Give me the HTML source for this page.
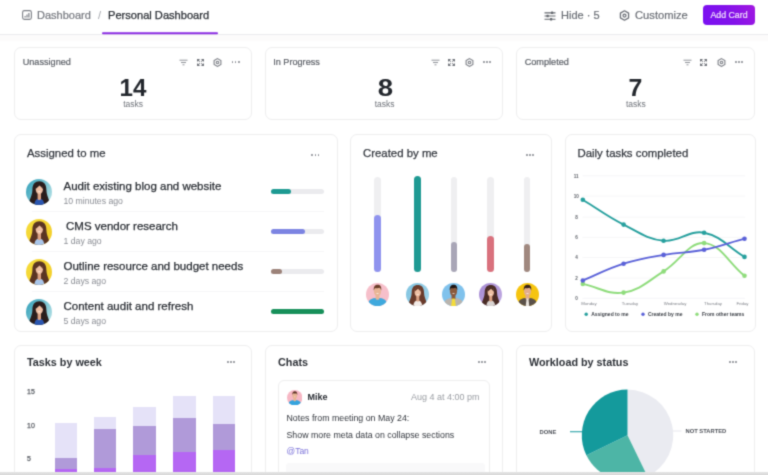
<!DOCTYPE html>
<html><head><meta charset="utf-8">
<style>
*{box-sizing:border-box;margin:0;padding:0}
html,body{width:768px;height:475px;overflow:hidden;background:#fff}
body{font-family:"Liberation Sans",sans-serif;color:#2a2e34;position:relative}
.abs{position:absolute}
.hdr{position:absolute;left:0;top:0;width:768px;height:35px;border-bottom:1px solid #ebebee}
.band{position:absolute;left:0;top:35px;width:768px;height:6px;background:#fcfbfb}
.card{position:absolute;background:#fff;border:1px solid #eeeeef;border-radius:7px}
.t{position:absolute;white-space:nowrap;line-height:1}
.ttl{font-size:11.4px;color:#34383f;-webkit-text-stroke:.25px #34383f}
.ttlb{font-size:10.8px;color:#2e3238;font-weight:bold}
.lab{font-size:9.15px;color:#5d6168;-webkit-text-stroke:.2px #5d6168}
.big{font-size:23px;font-weight:bold;color:#24282e;text-align:center}
.tk{font-size:8.5px;color:#6f737a;text-align:center}
.dots{position:absolute;width:9px;height:3px}
.dots i{position:absolute;top:.4px;width:1.8px;height:1.8px;border-radius:50%;background:#85888f}
.task{font-size:11.5px;color:#2a2e34;-webkit-text-stroke:.25px #2a2e34}
.ago{font-size:8.7px;color:#8b8e95}
.track{position:absolute;height:5px;border-radius:3px;background:#ebebee}
.fill{position:absolute;left:0;top:0;height:5px;border-radius:3px}
.vtrack{position:absolute;width:6.5px;border-radius:3.5px;background:#efeff1}
.vfill{position:absolute;left:0;bottom:0;width:6.5px;border-radius:3.5px}
.ax{font-size:6px;color:#5f636a}
.div{position:absolute;height:1px;background:#f6f6f7}
#root{position:absolute;left:0;top:0;width:768px;height:475px;overflow:hidden;background:#fff;filter:url(#sb)}
</style></head><body><svg width="0" height="0" style="position:absolute"><filter id="sb" x="0" y="0" width="100%" height="100%" color-interpolation-filters="sRGB"><feConvolveMatrix order="3" kernelMatrix="1 4 1 4 16 4 1 4 1" divisor="36" edgeMode="duplicate" preserveAlpha="true"/></filter></svg><div id="root">
<div class="hdr">
 <svg class="abs" style="left:21.700px;top:10.100px" width="10" height="10" viewBox="0 0 10 10" fill="none" stroke="#7d8087" stroke-width="1.100"><rect x=".6" y=".6" width="8.800" height="8.800" rx="1.800"/><path d="M3.100 7.400V5.900M5 7.400V4.500M6.900 7.400V2.900" stroke-width="1.200"/></svg>
 <div class="t" style="left:37px;top:10.200px;font-size:11px;color:#74777e;-webkit-text-stroke:.2px #74777e">Dashboard</div>
 <div class="t" style="left:98px;top:10.200px;font-size:11px;color:#a3a6ac">/</div>
 <div class="t" style="left:108px;top:10.200px;font-size:11.100px;color:#2a2e34;-webkit-text-stroke:.25px #2a2e34">Personal Dashboard</div>
 <div class="abs" style="left:101.500px;top:32px;width:116px;height:2.300px;background:#8a2be2;border-radius:1.200px;transform:translateY(.3px)"></div>
 <svg class="abs" style="left:544px;top:10.500px" width="12" height="10" viewBox="0 0 12 10" fill="none" stroke="#64686f" stroke-width="1.150"><path d="M.5 1.800h11M.5 5h11M.5 8.200h11"/><rect x="7" y=".5" width="2.200" height="2.600" rx=".5" fill="#64686f" stroke="none"/><rect x="2.500" y="3.700" width="2.200" height="2.600" rx=".5" fill="#64686f" stroke="none"/><rect x="6" y="6.900" width="2.200" height="2.600" rx=".5" fill="#64686f" stroke="none"/></svg>
 <div class="t" style="left:561px;top:10.200px;font-size:11px;color:#6b6f76;-webkit-text-stroke:.2px #6b6f76">Hide · 5</div>
 <svg class="abs" style="left:618.500px;top:10px" width="11" height="11" viewBox="0 0 11 11" fill="none" stroke="#6b6f76" stroke-width="1.250" stroke-linejoin="round"><path d="M5.500 .8l4.100 2.350v4.700l-4.100 2.350-4.100-2.350V3.150z"/><circle cx="5.500" cy="5.500" r="1.500"/></svg>
 <div class="t" style="left:635px;top:10.200px;font-size:11.200px;color:#6b6f76;-webkit-text-stroke:.2px #6b6f76">Customize</div>
 <div class="abs" style="left:703px;top:4.500px;width:52px;height:20.500px;background:linear-gradient(60deg,#7a10f2 0%,#8212ea 50%,#a218e0 100%);border-radius:4px;color:#f1e0fc;font-size:8.800px;line-height:20.500px;text-align:center;-webkit-text-stroke:.2px #f1e0fc">Add Card</div>
</div>
<div class="band"></div>

<!-- row1 -->
<div class="card" style="left:14px;top:47px;width:237.5px;height:73px"></div>
<div class="t lab" style="left:22.7px;top:57.500px">Unassigned</div>
<div class="t big" style="left:14.0px;top:77.300px;width:237.5px;transform:translateX(.3px) scaleX(1.05)">14</div>
<div class="t tk" style="left:14.3px;top:99.500px;width:237.5px">tasks</div>
<svg class="abs" style="left:179.3px;top:59px" width="9" height="7" viewBox="0 0 9 7" stroke="#85888f" stroke-width=".9" fill="none"><path d="M.5 1.200h8M2 3.500h5M3.500 5.800h2"/></svg><svg class="abs" style="left:196.9px;top:59px" width="7" height="7" viewBox="0 0 7 7" fill="#74777e"><path d="M0 0h2.600v1.200H1.200v1.400H0zM7 0v2.600H5.800V1.200H4.400V0zM0 7V4.400h1.200v1.400h1.400V7zM7 7H4.400V5.800h1.400V4.400H7z"/><path d="M.8.800L2.800 2.800M6.200.8L4.200 2.800M.8 6.200L2.800 4.200M6.200 6.200L4.200 4.200" stroke="#74777e" stroke-width="1"/></svg><svg class="abs" style="left:213.3px;top:58px" width="9" height="9" viewBox="0 0 9 9" fill="none" stroke="#787b82" stroke-width="1.050"><path d="M4.500 .6l3.400 1.950v3.900L4.500 8.400 1.100 6.450v-3.900z"/><circle cx="4.500" cy="4.500" r="1.300"/></svg><div class="dots" style="left:231.2px;top:61px"><i style="left:.4px"></i><i style="left:3.500px"></i><i style="left:6.600px"></i></div>
<div class="card" style="left:264.5px;top:47px;width:238.5px;height:73px"></div>
<div class="t lab" style="left:273.2px;top:57.500px">In Progress</div>
<div class="t big" style="left:264.5px;top:77.300px;width:238.5px;transform:translateX(1.1px) scaleX(1.2)">8</div>
<div class="t tk" style="left:265.3px;top:99.500px;width:238.5px">tasks</div>
<svg class="abs" style="left:430.8px;top:59px" width="9" height="7" viewBox="0 0 9 7" stroke="#85888f" stroke-width=".9" fill="none"><path d="M.5 1.200h8M2 3.500h5M3.500 5.800h2"/></svg><svg class="abs" style="left:448.4px;top:59px" width="7" height="7" viewBox="0 0 7 7" fill="#74777e"><path d="M0 0h2.600v1.200H1.200v1.400H0zM7 0v2.600H5.800V1.200H4.400V0zM0 7V4.400h1.200v1.400h1.400V7zM7 7H4.400V5.800h1.400V4.400H7z"/><path d="M.8.800L2.800 2.800M6.200.8L4.200 2.800M.8 6.200L2.800 4.200M6.200 6.200L4.200 4.200" stroke="#74777e" stroke-width="1"/></svg><svg class="abs" style="left:464.8px;top:58px" width="9" height="9" viewBox="0 0 9 9" fill="none" stroke="#787b82" stroke-width="1.050"><path d="M4.500 .6l3.400 1.950v3.900L4.500 8.400 1.100 6.450v-3.900z"/><circle cx="4.500" cy="4.500" r="1.300"/></svg><div class="dots" style="left:482.7px;top:61px"><i style="left:.4px"></i><i style="left:3.500px"></i><i style="left:6.600px"></i></div>
<div class="card" style="left:516px;top:47px;width:239px;height:73px"></div>
<div class="t lab" style="left:524.7px;top:57.500px">Completed</div>
<div class="t big" style="left:516.0px;top:77.300px;width:239px;transform:scaleX(1.08)">7</div>
<div class="t tk" style="left:516.3px;top:99.500px;width:239px">tasks</div>
<svg class="abs" style="left:682.8px;top:59px" width="9" height="7" viewBox="0 0 9 7" stroke="#85888f" stroke-width=".9" fill="none"><path d="M.5 1.200h8M2 3.500h5M3.500 5.800h2"/></svg><svg class="abs" style="left:700.4px;top:59px" width="7" height="7" viewBox="0 0 7 7" fill="#74777e"><path d="M0 0h2.600v1.200H1.200v1.400H0zM7 0v2.600H5.800V1.200H4.400V0zM0 7V4.400h1.200v1.400h1.400V7zM7 7H4.400V5.800h1.400V4.400H7z"/><path d="M.8.800L2.800 2.800M6.200.8L4.200 2.800M.8 6.200L2.800 4.200M6.200 6.200L4.200 4.200" stroke="#74777e" stroke-width="1"/></svg><svg class="abs" style="left:716.8px;top:58px" width="9" height="9" viewBox="0 0 9 9" fill="none" stroke="#787b82" stroke-width="1.050"><path d="M4.500 .6l3.400 1.950v3.900L4.500 8.400 1.100 6.450v-3.900z"/><circle cx="4.500" cy="4.500" r="1.300"/></svg><div class="dots" style="left:734.7px;top:61px"><i style="left:.4px"></i><i style="left:3.500px"></i><i style="left:6.600px"></i></div>


<!-- row2 -->
<div class="card" style="left:14px;top:133.500px;width:323.500px;height:198px"></div>
<div class="t ttl" style="left:27px;top:148px">Assigned to me</div>
<div class="dots" style="left:311px;top:153.500px"><i style="left:.4px"></i><i style="left:3.500px"></i><i style="left:6.600px"></i></div>
<div class="t task" style="left:63.5px;top:181.0px">Audit existing blog and website</div>
<div class="t ago" style="left:63.500px;top:197.3px">10 minutes ago</div>
<div class="track" style="left:271px;top:189.0px;width:52.500px"><div class="fill" style="width:20px;background:#1d9a92"></div></div>
<div class="div" style="left:32px;top:210.5px;width:292px"></div>
<div class="t task" style="left:66.0px;top:221.0px">CMS vendor research</div>
<div class="t ago" style="left:63.500px;top:237.3px">1 day ago</div>
<div class="track" style="left:271px;top:229.0px;width:52.500px"><div class="fill" style="width:33.7px;background:#7c84e2"></div></div>
<div class="div" style="left:32px;top:250.5px;width:292px"></div>
<div class="t task" style="left:63.5px;top:261.0px">Outline resource and budget needs</div>
<div class="t ago" style="left:63.500px;top:277.3px">2 days ago</div>
<div class="track" style="left:271px;top:269.0px;width:52.500px"><div class="fill" style="width:10.5px;background:#9c8279"></div></div>
<div class="div" style="left:32px;top:290.5px;width:292px"></div>
<div class="t task" style="left:63.5px;top:301.0px">Content audit and refresh</div>
<div class="t ago" style="left:63.500px;top:317.3px">5 days ago</div>
<div class="track" style="left:271px;top:309.0px;width:52.500px"><div class="fill" style="width:52.5px;background:#17905a"></div></div>

<svg class="abs" style="left:26.2px;top:178.5px" width="26.0" height="26.0" viewBox="0 0 26 26"><defs><linearGradient id="g39_191" x1="0" y1="0" x2="1" y2=".6"><stop offset="0" stop-color="#2f9fb8"/><stop offset="1" stop-color="#a9dbe2"/></linearGradient></defs><clipPath id="cg39_191"><circle cx="13" cy="13" r="13"/></clipPath><g clip-path="url(#cg39_191)"><rect width="26" height="26" fill="url(#g39_191)"/><path d="M6.400 11C6.400 5 9.200 2.300 13.300 2.300S20.400 5 20.400 11c0 4 1.600 7 2.900 11l-1.300 4H4.600l-1.300-4c1.500-4 3.100-7 3.100-11z" fill="#2a1d1c"/><path d="M8.300 26c.4-4.400 2-6.300 5-6.300s4.600 1.900 5 6.300z" fill="#2a56b0"/><path d="M11.600 14h3.400v5.800c0 1.600-3.400 1.600-3.400 0z" fill="#dba284"/><ellipse cx="13.300" cy="10.200" rx="3.600" ry="5" fill="#eebfa3"/><path d="M9.600 10c.1-4 1.800-5.400 3.800-5.400 2.100 0 3.500 1.500 3.600 5.400-1.200-1.300-2.400-2.700-3.400-3.500-1.300 1-2.700 2.300-4 3.500z" fill="#2a1d1c"/><path d="M11.700 12.600q1.600 1.500 3.200 0z" fill="#fff"/></g></svg>
<svg class="abs" style="left:26.2px;top:218.5px" width="26.0" height="26.0" viewBox="0 0 26 26"><defs><linearGradient id="g39_231" x1="0" y1="0" x2="1" y2=".6"><stop offset="0" stop-color="#f6dc3c"/><stop offset="1" stop-color="#f3cf2a"/></linearGradient></defs><clipPath id="cg39_231"><circle cx="13" cy="13" r="13"/></clipPath><g clip-path="url(#cg39_231)"><rect width="26" height="26" fill="url(#g39_231)"/><path d="M6.400 11C6.400 5 9.200 2.300 13.300 2.300S20.400 5 20.400 11c0 4 1.600 7 2.900 11l-1.300 4H4.600l-1.300-4c1.500-4 3.100-7 3.100-11z" fill="#5a3423"/><path d="M8.300 26c.4-4.400 2-6.300 5-6.300s4.600 1.900 5 6.300z" fill="#a9c6ea"/><path d="M11.600 14h3.400v5.800c0 1.600-3.400 1.600-3.400 0z" fill="#dba284"/><ellipse cx="13.300" cy="10.200" rx="3.600" ry="5" fill="#eebfa3"/><path d="M9.600 10c.1-4 1.800-5.400 3.800-5.400 2.100 0 3.500 1.500 3.600 5.400-1.200-1.300-2.400-2.700-3.400-3.500-1.300 1-2.700 2.300-4 3.500z" fill="#5a3423"/><path d="M11.700 12.600q1.600 1.500 3.200 0z" fill="#fff"/></g></svg>
<svg class="abs" style="left:26.2px;top:258.5px" width="26.0" height="26.0" viewBox="0 0 26 26"><defs><linearGradient id="g39_271" x1="0" y1="0" x2="1" y2=".6"><stop offset="0" stop-color="#f6dc3c"/><stop offset="1" stop-color="#f3cf2a"/></linearGradient></defs><clipPath id="cg39_271"><circle cx="13" cy="13" r="13"/></clipPath><g clip-path="url(#cg39_271)"><rect width="26" height="26" fill="url(#g39_271)"/><path d="M6.400 11C6.400 5 9.200 2.300 13.300 2.300S20.400 5 20.400 11c0 4 1.600 7 2.900 11l-1.300 4H4.600l-1.300-4c1.500-4 3.100-7 3.100-11z" fill="#5a3423"/><path d="M8.300 26c.4-4.400 2-6.300 5-6.300s4.600 1.900 5 6.300z" fill="#a9c6ea"/><path d="M11.600 14h3.400v5.800c0 1.600-3.400 1.600-3.400 0z" fill="#dba284"/><ellipse cx="13.300" cy="10.200" rx="3.600" ry="5" fill="#eebfa3"/><path d="M9.600 10c.1-4 1.800-5.400 3.800-5.400 2.100 0 3.500 1.500 3.600 5.400-1.200-1.300-2.400-2.700-3.400-3.500-1.300 1-2.700 2.300-4 3.500z" fill="#5a3423"/><path d="M11.700 12.600q1.600 1.500 3.200 0z" fill="#fff"/></g></svg>
<svg class="abs" style="left:26.2px;top:298.5px" width="26.0" height="26.0" viewBox="0 0 26 26"><defs><linearGradient id="g39_311" x1="0" y1="0" x2="1" y2=".6"><stop offset="0" stop-color="#2f9fb8"/><stop offset="1" stop-color="#a9dbe2"/></linearGradient></defs><clipPath id="cg39_311"><circle cx="13" cy="13" r="13"/></clipPath><g clip-path="url(#cg39_311)"><rect width="26" height="26" fill="url(#g39_311)"/><path d="M6.400 11C6.400 5 9.200 2.300 13.300 2.300S20.400 5 20.400 11c0 4 1.600 7 2.900 11l-1.300 4H4.600l-1.300-4c1.500-4 3.100-7 3.100-11z" fill="#2a1d1c"/><path d="M8.300 26c.4-4.400 2-6.300 5-6.300s4.600 1.900 5 6.300z" fill="#2a56b0"/><path d="M11.600 14h3.400v5.800c0 1.600-3.400 1.600-3.400 0z" fill="#dba284"/><ellipse cx="13.300" cy="10.200" rx="3.600" ry="5" fill="#eebfa3"/><path d="M9.600 10c.1-4 1.800-5.400 3.800-5.400 2.100 0 3.500 1.500 3.600 5.400-1.200-1.300-2.400-2.700-3.400-3.500-1.300 1-2.700 2.300-4 3.500z" fill="#2a1d1c"/><path d="M11.700 12.600q1.600 1.500 3.200 0z" fill="#fff"/></g></svg>

<div class="card" style="left:350px;top:133.500px;width:202px;height:198px"></div>
<div class="t ttl" style="left:363px;top:148px">Created by me</div>
<div class="dots" style="left:525.500px;top:153.500px"><i style="left:.4px"></i><i style="left:3.500px"></i><i style="left:6.600px"></i></div>
<div class="vtrack" style="left:374.4px;top:176.500px;height:95px"><div class="vfill" style="height:56.5px;background:#8f93ee"></div></div>
<div class="vtrack" style="left:414.4px;top:176.500px;height:95px"><div class="vfill" style="height:95.5px;background:#1f9a93"></div></div>
<div class="vtrack" style="left:450.6px;top:176.500px;height:95px"><div class="vfill" style="height:29.5px;background:#a9a6b7"></div></div>
<div class="vtrack" style="left:487.1px;top:176.500px;height:95px"><div class="vfill" style="height:35.9px;background:#d9717d"></div></div>
<div class="vtrack" style="left:523.8px;top:176.500px;height:95px"><div class="vfill" style="height:27.2px;background:#a0887f"></div></div>

<svg class="abs" style="left:366.0px;top:283.1px" width="23.0" height="23.0" viewBox="0 0 26 26"><clipPath id="m377_294"><circle cx="13" cy="13" r="13"/></clipPath><g clip-path="url(#m377_294)"><rect width="26" height="26" fill="#f6bfca"/><path d="M1.500 26c.3-6.200 4.300-9.300 11.500-9.300s11.200 3.100 11.500 9.300z" fill="#3fa9dd"/><path d="M10.800 12.500h4.400v4.700c0 2.400-4.400 2.400-4.400 0z" fill="#e8b595"/><ellipse cx="13" cy="9.200" rx="4" ry="5.200" fill="#e8b595"/><path d="M8.800 8.600C8.300 3.900 10.400 2 13.200 2c2.900 0 4.600 2.100 4 6.600-.5-1.600-1-2.600-1.600-3.200-1.700.6-3.800.6-5.400.2-.6.700-1.100 1.700-1.400 3z" fill="#6b3f2a"/><path d="M11.300 11.400q1.700 1.500 3.400 0z" fill="#fff"/></g></svg>
<svg class="abs" style="left:406.0px;top:283.1px" width="23.0" height="23.0" viewBox="0 0 26 26"><defs><linearGradient id="g417_294" x1="0" y1="0" x2="1" y2=".6"><stop offset="0" stop-color="#7fc3e0"/><stop offset="1" stop-color="#9fd2e8"/></linearGradient></defs><clipPath id="cg417_294"><circle cx="13" cy="13" r="13"/></clipPath><g clip-path="url(#cg417_294)"><rect width="26" height="26" fill="url(#g417_294)"/><path d="M6.400 11C6.400 5 9.200 2.300 13.300 2.300S20.400 5 20.400 11c0 4 1.600 7 2.900 11l-1.300 4H4.600l-1.300-4c1.500-4 3.100-7 3.100-11z" fill="#6a3b2b"/><path d="M8.300 26c.4-4.400 2-6.300 5-6.300s4.600 1.900 5 6.300z" fill="#f3ece8"/><path d="M11.600 14h3.400v5.800c0 1.600-3.400 1.600-3.400 0z" fill="#dba284"/><ellipse cx="13.300" cy="10.200" rx="3.600" ry="5" fill="#eebfa3"/><path d="M9.600 10c.1-4 1.800-5.400 3.800-5.400 2.100 0 3.500 1.500 3.600 5.400-1.200-1.300-2.400-2.700-3.400-3.500-1.300 1-2.700 2.300-4 3.500z" fill="#6a3b2b"/><path d="M11.700 12.600q1.600 1.500 3.200 0z" fill="#fff"/></g></svg>
<svg class="abs" style="left:442.3px;top:283.1px" width="23.0" height="23.0" viewBox="0 0 26 26"><clipPath id="m453_294"><circle cx="13" cy="13" r="13"/></clipPath><g clip-path="url(#m453_294)"><rect width="26" height="26" fill="#80c2ec"/><path d="M1.500 26c.3-6.200 4.300-9.300 11.500-9.300s11.200 3.100 11.500 9.300z" fill="#b9b4ae"/><path d="M10.800 12.500h4.400v4.700c0 2.400-4.400 2.400-4.400 0z" fill="#8a5a3d"/><ellipse cx="13" cy="9.200" rx="4" ry="5.200" fill="#8a5a3d"/><path d="M8.800 8.600C8.300 3.900 10.400 2 13.200 2c2.900 0 4.600 2.100 4 6.600-.5-1.600-1-2.600-1.600-3.200-1.700.6-3.800.6-5.400.2-.6.700-1.100 1.700-1.400 3z" fill="#1d1513"/><path d="M11.300 11.400q1.700 1.500 3.400 0z" fill="#fff"/><path d="M10.300 26l1.200-8.500h3l1.200 8.500z" fill="#f3dc3a"/></g></svg>
<svg class="abs" style="left:478.7px;top:283.1px" width="23.0" height="23.0" viewBox="0 0 26 26"><defs><linearGradient id="g490_294" x1="0" y1="0" x2="1" y2=".6"><stop offset="0" stop-color="#a68bd3"/><stop offset="1" stop-color="#bda6e0"/></linearGradient></defs><clipPath id="cg490_294"><circle cx="13" cy="13" r="13"/></clipPath><g clip-path="url(#cg490_294)"><rect width="26" height="26" fill="url(#g490_294)"/><path d="M6.400 11C6.400 5 9.200 2.300 13.300 2.300S20.400 5 20.400 11c0 4 1.600 7 2.900 11l-1.300 4H4.600l-1.300-4c1.500-4 3.100-7 3.100-11z" fill="#4a2c25"/><path d="M8.300 26c.4-4.400 2-6.300 5-6.300s4.600 1.900 5 6.300z" fill="#d9d4d2"/><path d="M11.600 14h3.400v5.800c0 1.600-3.400 1.600-3.400 0z" fill="#dba284"/><ellipse cx="13.300" cy="10.200" rx="3.600" ry="5" fill="#eebfa3"/><path d="M9.600 10c.1-4 1.800-5.400 3.800-5.400 2.100 0 3.500 1.500 3.600 5.400-1.200-1.300-2.400-2.700-3.400-3.500-1.300 1-2.700 2.300-4 3.500z" fill="#4a2c25"/><path d="M11.700 12.600q1.600 1.500 3.200 0z" fill="#fff"/></g></svg>
<svg class="abs" style="left:515.5px;top:283.1px" width="23.0" height="23.0" viewBox="0 0 26 26"><clipPath id="m527_294"><circle cx="13" cy="13" r="13"/></clipPath><g clip-path="url(#m527_294)"><rect width="26" height="26" fill="#f6c40f"/><path d="M1.500 26c.3-6.200 4.300-9.300 11.500-9.300s11.200 3.100 11.500 9.300z" fill="#5b5149"/><path d="M10.800 12.500h4.400v4.700c0 2.400-4.400 2.400-4.400 0z" fill="#e2ad8c"/><ellipse cx="13" cy="9.200" rx="4" ry="5.200" fill="#e2ad8c"/><path d="M8.800 8.600C8.300 3.900 10.400 2 13.200 2c2.900 0 4.600 2.100 4 6.600-.5-1.600-1-2.600-1.600-3.200-1.700.6-3.800.6-5.400.2-.6.700-1.100 1.700-1.400 3z" fill="#3a241a"/><path d="M11.300 11.400q1.700 1.500 3.400 0z" fill="#fff"/><path d="M11 26l1-8.500h2l1 8.500z" fill="#e9e4de"/></g></svg>

<div class="card" style="left:564.500px;top:133.500px;width:191px;height:198px"></div>
<div class="t ttl" style="left:577.500px;top:148px">Daily tasks completed</div>
<svg class="abs" style="left:0;top:0" width="768" height="475" viewBox="0 0 768 475" font-family="Liberation Sans, sans-serif">
<path d="M582.500 175.8H745" stroke="#f6f6f8" stroke-width="1"/>
<path d="M582.500 196.0H745" stroke="#f6f6f8" stroke-width="1"/>
<path d="M582.500 217.2H745" stroke="#f6f6f8" stroke-width="1"/>
<path d="M582.500 237.4H745" stroke="#f6f6f8" stroke-width="1"/>
<path d="M582.500 257.6H745" stroke="#f6f6f8" stroke-width="1"/>
<path d="M582.500 278.0H745" stroke="#f6f6f8" stroke-width="1"/>
<path d="M582.500 298.3H745" stroke="#f6f6f8" stroke-width="1"/>
<text x="573.8" y="177.5" font-size="4.600" fill="#5d6168" font-weight="bold">11</text>
<text x="573.8" y="197.7" font-size="4.600" fill="#5d6168" font-weight="bold">10</text>
<text x="575.2" y="218.9" font-size="4.600" fill="#5d6168" font-weight="bold">8</text>
<text x="575.2" y="239.1" font-size="4.600" fill="#5d6168" font-weight="bold">6</text>
<text x="575.2" y="259.3" font-size="4.600" fill="#5d6168" font-weight="bold">4</text>
<text x="575.2" y="279.7" font-size="4.600" fill="#5d6168" font-weight="bold">2</text>
<text x="575.2" y="300.0" font-size="4.600" fill="#5d6168" font-weight="bold">0</text>
<path d="M582.8 199.7 C599.1 209.7 606.6 216.0 623.6 224.6 C638.9 232.4 647.1 239.1 663.6 240.8 C679.3 242.4 689.0 229.7 704.1 232.7 C721.3 236.1 728.3 247.2 744.5 256.9" fill="none" stroke="#27a09e" stroke-width="1.900" stroke-linecap="round"/>
<circle cx="582.8" cy="199.7" r="2.300" fill="#27a09e"/>
<circle cx="623.6" cy="224.6" r="2.300" fill="#27a09e"/>
<circle cx="663.6" cy="240.8" r="2.300" fill="#27a09e"/>
<circle cx="704.1" cy="232.7" r="2.300" fill="#27a09e"/>
<circle cx="744.5" cy="256.9" r="2.300" fill="#27a09e"/>
<path d="M582.8 283.9 C599.1 287.4 608.1 295.0 623.6 292.6 C640.4 290.0 648.2 280.9 663.6 271.4 C680.4 261.1 688.3 242.2 704.1 243.1 C720.7 244.0 728.3 262.7 744.5 275.8" fill="none" stroke="#8fdc7c" stroke-width="1.900" stroke-linecap="round"/>
<circle cx="582.8" cy="283.9" r="2.300" fill="#8fdc7c"/>
<circle cx="623.6" cy="292.6" r="2.300" fill="#8fdc7c"/>
<circle cx="663.6" cy="271.4" r="2.300" fill="#8fdc7c"/>
<circle cx="704.1" cy="243.1" r="2.300" fill="#8fdc7c"/>
<circle cx="744.5" cy="275.8" r="2.300" fill="#8fdc7c"/>
<path d="M582.8 280.5 C599.1 273.8 606.8 269.0 623.6 263.7 C639.2 258.8 647.5 257.7 663.6 254.9 C679.7 252.1 688.1 253.0 704.1 249.8 C720.5 246.5 728.3 243.1 744.5 238.7" fill="none" stroke="#5a61d8" stroke-width="1.900" stroke-linecap="round"/>
<circle cx="582.8" cy="280.5" r="2.300" fill="#5a61d8"/>
<circle cx="623.6" cy="263.7" r="2.300" fill="#5a61d8"/>
<circle cx="663.6" cy="254.9" r="2.300" fill="#5a61d8"/>
<circle cx="704.1" cy="249.8" r="2.300" fill="#5a61d8"/>
<circle cx="744.5" cy="238.7" r="2.300" fill="#5a61d8"/>
<text x="589.0" y="305" font-size="4.300" fill="#7b7e85" text-anchor="middle">Monday</text>
<text x="630.0" y="305" font-size="4.300" fill="#7b7e85" text-anchor="middle">Tuesday</text>
<text x="675.0" y="305" font-size="4.300" fill="#7b7e85" text-anchor="middle">Wednesday</text>
<text x="713.0" y="305" font-size="4.300" fill="#7b7e85" text-anchor="middle">Thursday</text>
<text x="742.5" y="305" font-size="4.300" fill="#7b7e85" text-anchor="middle">Friday</text>
<circle cx="586.2" cy="314.200" r="1.700" fill="#27a09e"/><text x="591.2" y="316" font-size="5" fill="#3a3e45" font-weight="bold">Assigned to me</text>
<circle cx="643.0" cy="314.200" r="1.700" fill="#5a61d8"/><text x="648.0" y="316" font-size="5" fill="#3a3e45" font-weight="bold">Created by me</text>
<circle cx="697.0" cy="314.200" r="1.700" fill="#8fdc7c"/><text x="702.0" y="316" font-size="5" fill="#3a3e45" font-weight="bold">From other teams</text>
</svg>

<!-- row3 -->
<div class="card" style="left:14px;top:345px;width:237.500px;height:160px"></div>
<div class="t ttlb" style="left:27px;top:356.500px">Tasks by week</div>
<div class="dots" style="left:226.500px;top:360.500px"><i style="left:.4px"></i><i style="left:3.500px"></i><i style="left:6.600px"></i></div>
<div class="abs" style="left:54.6px;top:423.0px;width:22.5px;height:57.0px;background:#e5e2f8"></div><div class="abs" style="left:54.6px;top:457.8px;width:22.5px;height:22.2px;background:#b09ad9"></div><div class="abs" style="left:54.6px;top:468.6px;width:22.5px;height:11.4px;background:#b567f3"></div>
<div class="abs" style="left:94.3px;top:417.1px;width:22.2px;height:62.9px;background:#e5e2f8"></div><div class="abs" style="left:94.3px;top:428.5px;width:22.2px;height:51.5px;background:#b09ad9"></div><div class="abs" style="left:94.3px;top:468.2px;width:22.2px;height:11.8px;background:#b567f3"></div>
<div class="abs" style="left:133.3px;top:406.5px;width:22.6px;height:73.5px;background:#e5e2f8"></div><div class="abs" style="left:133.3px;top:425.8px;width:22.6px;height:54.2px;background:#b09ad9"></div><div class="abs" style="left:133.3px;top:454.8px;width:22.6px;height:25.2px;background:#b567f3"></div>
<div class="abs" style="left:173.3px;top:396.0px;width:22.6px;height:84.0px;background:#e5e2f8"></div><div class="abs" style="left:173.3px;top:418.2px;width:22.6px;height:61.8px;background:#b09ad9"></div><div class="abs" style="left:173.3px;top:451.5px;width:22.6px;height:28.5px;background:#b567f3"></div>
<div class="abs" style="left:212.9px;top:396.0px;width:22.4px;height:84.0px;background:#e5e2f8"></div><div class="abs" style="left:212.9px;top:423.6px;width:22.4px;height:56.4px;background:#b09ad9"></div><div class="abs" style="left:212.9px;top:449.8px;width:22.4px;height:30.2px;background:#b567f3"></div>
<div class="t" style="left:27px;top:387.9px;font-size:7px;color:#5a5e65;-webkit-text-stroke:.25px #5a5e65">15</div>
<div class="t" style="left:27px;top:421.8px;font-size:7px;color:#5a5e65;-webkit-text-stroke:.25px #5a5e65">10</div>
<div class="t" style="left:27px;top:454.8px;font-size:7px;color:#5a5e65;-webkit-text-stroke:.25px #5a5e65">5</div>


<div class="card" style="left:264.500px;top:345px;width:238.500px;height:160px"></div>
<div class="t ttlb" style="left:278px;top:356.500px">Chats</div>
<div class="dots" style="left:477.500px;top:360.500px"><i style="left:.4px"></i><i style="left:3.500px"></i><i style="left:6.600px"></i></div>
<div class="abs" style="left:278px;top:379.500px;width:212px;height:120px;border:1px solid #eeeeef;border-radius:6px"></div>
<svg class="abs" style="left:286.9px;top:389.6px" width="15.5" height="15.5" viewBox="0 0 26 26"><clipPath id="m294_397"><circle cx="13" cy="13" r="13"/></clipPath><g clip-path="url(#m294_397)"><rect width="26" height="26" fill="#f7b7c4"/><path d="M1.500 26c.3-6.200 4.300-9.300 11.500-9.300s11.200 3.100 11.500 9.300z" fill="#35a4de"/><path d="M10.800 12.500h4.400v4.700c0 2.400-4.400 2.400-4.400 0z" fill="#e8b595"/><ellipse cx="13" cy="9.200" rx="4" ry="5.200" fill="#e8b595"/><path d="M8.800 8.600C8.300 3.900 10.400 2 13.200 2c2.900 0 4.600 2.100 4 6.600-.5-1.600-1-2.600-1.600-3.200-1.700.6-3.800.6-5.400.2-.6.700-1.100 1.700-1.400 3z" fill="#5b3324"/><path d="M11.300 11.400q1.700 1.500 3.400 0z" fill="#fff"/></g></svg>
<div class="t" style="left:307.500px;top:393px;font-size:9px;font-weight:bold;color:#2a2e34">Mike</div>
<div class="t" style="left:411px;top:393px;font-size:9px;color:#9a9da3">Aug 4 at 4:00 pm</div>
<div class="t" style="left:286.500px;top:414px;font-size:8.800px;color:#34383f">Notes from meeting on May 24:</div>
<div class="t" style="left:286.500px;top:430.500px;font-size:8.800px;color:#34383f">Show more meta data on collapse sections</div>
<div class="t" style="left:286.500px;top:447px;font-size:8.500px;color:#7b72d9">@Tan</div>
<div class="abs" style="left:286px;top:463px;width:199px;height:20px;background:#f9f9fa;border-radius:3px"></div>

<div class="card" style="left:516px;top:345px;width:239px;height:160px"></div>
<div class="t ttlb" style="left:529px;top:356.500px">Workload by status</div>
<div class="dots" style="left:728.500px;top:360.500px"><i style="left:.4px"></i><i style="left:3.500px"></i><i style="left:6.600px"></i></div>
<svg class="abs" style="left:0;top:0" width="768" height="475" viewBox="0 0 768 475">
<path d="M627.5 435.3 L627.5 389.6 A45.7 45.7 0 0 1 647.5 476.4 Z" fill="#eaebf1"/><path d="M627.5 435.3 L647.5 476.4 A45.7 45.7 0 0 1 586.4 455.3 Z" fill="#4db5a6"/><path d="M627.5 435.3 L586.4 455.3 A45.7 45.7 0 0 1 627.5 389.6 Z" fill="#149a9c"/>
<path d="M570 431.700H582" stroke="#3aa9ae" stroke-width="1.200"/>
<path d="M673 431H681.500" stroke="#ebebf0" stroke-width="1.200"/>
<text x="539.500" y="434" font-size="5.800" fill="#4d5158" font-family="Liberation Sans, sans-serif" font-weight="bold">DONE</text>
<text x="685.500" y="433" font-size="5.800" fill="#4d5158" font-family="Liberation Sans, sans-serif" font-weight="bold">NOT STARTED</text>
</svg>

<div class="abs" style="left:0;top:472px;width:768px;height:3px;background:linear-gradient(#e4e4e4,#d9d9d9)"></div>
</div></body></html>
